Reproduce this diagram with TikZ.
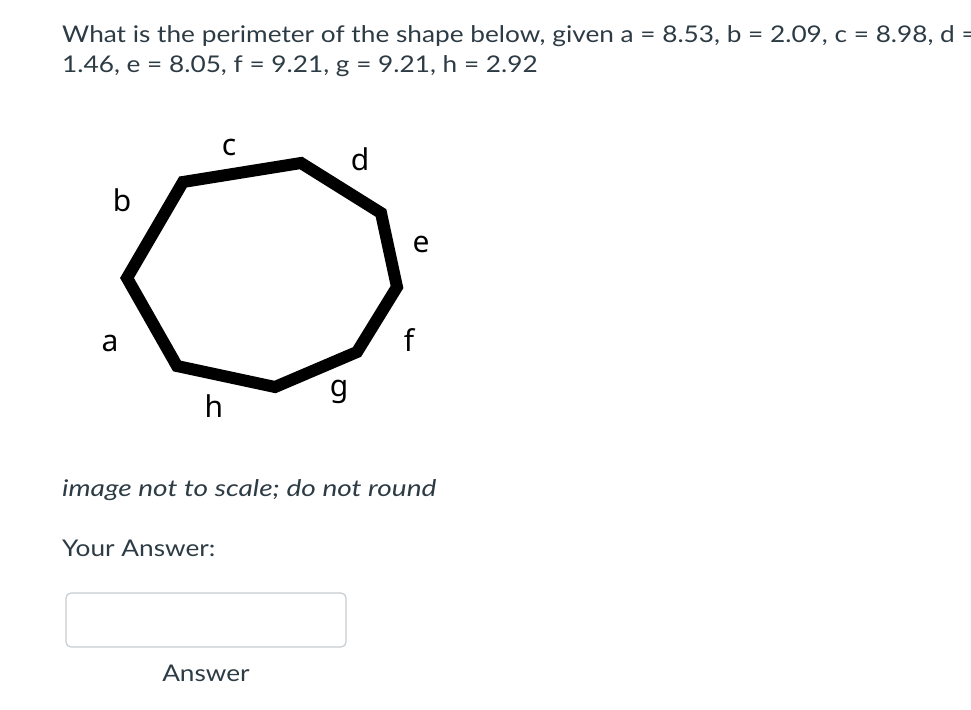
\documentclass[tikz,border=0pt]{standalone}
\usepackage{fontspec}
\setmainfont{Lato}[FakeStretch=1.14]
\newfontfamily\notefont{Lato}[FakeStretch=1.22]
\newfontfamily\labelfont{Noto Sans}
\definecolor{canvastext}{HTML}{2D3B45}
\definecolor{boxborder}{HTML}{C7CDD1}

\begin{document}
\begin{tikzpicture}[x=1pt,y=-1pt,
    qtext/.style={anchor=base west, inner sep=0pt, text=canvastext, font=\fontsize{23}{28}\selectfont},
    sidelabel/.style={inner sep=0pt, font=\labelfont\fontsize{30}{34}\selectfont},
    answerbox/.style={draw=boxborder, line width=1.2pt, rounded corners=5pt, minimum width=280pt, minimum height=54pt, inner sep=0pt}]
  \useasboundingbox (0,0) rectangle (971,709);

  \node[qtext] (line1) at (62,42) {What is the perimeter of the shape below, given a = 8.53, b = 2.09, c = 8.98, d =};
  \node[qtext] (line2) at (62,72) {1.46, e = 8.05, f = 9.21, g = 9.21, h = 2.92};

  \coordinate (ab) at (127,278);
  \coordinate (bc) at (183,182);
  \coordinate (cd) at (301,163);
  \coordinate (de) at (381,213);
  \coordinate (ef) at (397,287);
  \coordinate (fg) at (357,352);
  \coordinate (gh) at (275,387);
  \coordinate (ha) at (177,366);
  \draw[line width=12pt, line join=miter] (ab) -- (bc) -- (cd) -- (de) -- (ef) -- (fg) -- (gh) -- (ha) -- cycle;

  \node[sidelabel] (la) at (110,343) {a};
  \node[sidelabel] (lb) at (122,200) {b};
  \node[sidelabel] (lc) at (229,147) {c};
  \node[sidelabel] (ld) at (360,159) {d};
  \node[sidelabel] (le) at (421,244) {e};
  \node[sidelabel] (lf) at (409,340) {f};
  \node[sidelabel] (lg) at (339,392) {g};
  \node[sidelabel] (lh) at (214,406) {h};

  \node[qtext, font=\notefont\itshape\fontsize{23}{28}\selectfont] (scale) at (62,496) {image not to scale; do not round};
  \node[qtext] (your) at (62,556) {Your Answer:};
  \node[answerbox] (box) at (206,620) {};
  \node[qtext, anchor=base] (answer) at (206,681) {Answer};
\end{tikzpicture}
\end{document}
